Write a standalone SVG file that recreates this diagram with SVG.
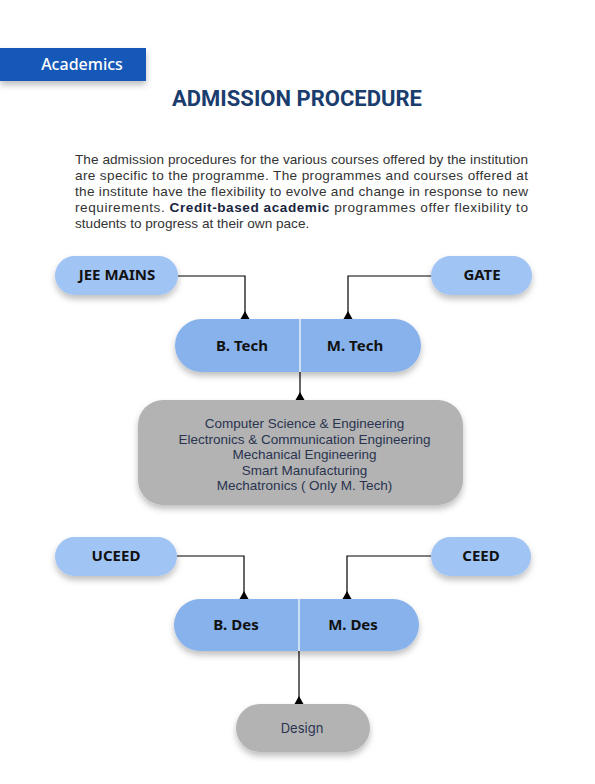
<svg xmlns="http://www.w3.org/2000/svg" width="595" height="784" viewBox="0 0 595 784">
<defs>
<filter id="sh" x="-20%" y="-30%" width="140%" height="180%">
<feDropShadow dx="0" dy="4" stdDeviation="3" flood-color="#000" flood-opacity="0.25"/>
</filter>
<marker id="arr" viewBox="0 0 10 10" refX="5" refY="10" markerWidth="10" markerHeight="10" markerUnits="userSpaceOnUse" orient="0">
<path d="M0.5,10 L5,2 L9.5,10 Z" fill="#000"/>
</marker>
<style>
.lbl{font-family:"Noto Sans","Open Sans",sans-serif;font-weight:700;font-size:15px;fill:#111;text-anchor:middle}
.grey{font-family:"Liberation Sans",Arial,sans-serif;font-size:13.5px;fill:#2a3350;text-anchor:middle}
.para{font-family:"Liberation Sans",Arial,sans-serif;font-size:13.6px;fill:#333}
.blue{fill:#a0c4f4;filter:url(#sh)}
.blue2{fill:#87b2ec;filter:url(#sh)}
.gr{fill:#b3b3b3;filter:url(#sh)}
.con{fill:none;stroke:#000;stroke-width:1.2}
</style>
</defs>
<rect width="595" height="784" fill="#fff"/>
<g id="tab">
<rect x="0" y="48" width="146" height="33" fill="#1558b8" filter="url(#sh)"/>
<text x="82" y="70" font-family="'Noto Sans',sans-serif" font-size="16" font-weight="500" fill="#fff" text-anchor="middle">Academics</text>
</g>
<text id="title" x="297" y="106" font-family="Roboto,'Liberation Sans',sans-serif" font-size="22" font-weight="700" fill="#1a3d6e" text-anchor="middle">ADMISSION PROCEDURE</text>
<g id="para" class="para">
<text x="75" y="164" textLength="453" lengthAdjust="spacing">The admission procedures for the various courses offered by the institution</text>
<text x="75" y="180" textLength="453" lengthAdjust="spacing">are specific to the programme. The programmes and courses offered at</text>
<text x="75" y="196" textLength="453" lengthAdjust="spacing">the institute have the flexibility to evolve and change in response to new</text>
<text x="75" y="212" textLength="453" lengthAdjust="spacing">requirements. <tspan font-weight="700" fill="#1a2540">Credit-based academic</tspan> programmes offer flexibility to</text>
<text x="75" y="228">students to progress at their own pace.</text>
</g>
<g id="connectors">
<path class="con" d="M178,276 H245 V319" marker-end="url(#arr)"/>
<path class="con" d="M432,276 H348 V319" marker-end="url(#arr)"/>
<path class="con" d="M300,372 V400" marker-end="url(#arr)"/>
<path class="con" d="M177,556 H244 V599" marker-end="url(#arr)"/>
<path class="con" d="M431,556 H347 V599" marker-end="url(#arr)"/>
<path class="con" d="M299,651 V704" marker-end="url(#arr)"/>
</g>
<g id="jee">
<rect class="blue" x="55" y="256" width="123" height="39" rx="19.5"/>
<text class="lbl" x="117" y="280">JEE MAINS</text>
</g>
<g id="gate">
<rect class="blue" x="431" y="256" width="101" height="39" rx="19.5"/>
<text class="lbl" x="482" y="280">GATE</text>
</g>
<g id="tech">
<rect class="blue2" x="175" y="319" width="246" height="53" rx="26.5"/>
<line x1="300" y1="319" x2="300" y2="372" stroke="#fff" stroke-width="1.2"/>
<text class="lbl" x="242" y="351">B. Tech</text>
<text class="lbl" x="355" y="351">M. Tech</text>
</g>
<g id="courses">
<rect class="gr" x="138" y="400" width="325" height="105" rx="25"/>
<text class="grey" x="304.5" y="428">Computer Science &amp; Engineering</text>
<text class="grey" x="304.5" y="443.5">Electronics &amp; Communication Engineering</text>
<text class="grey" x="304.5" y="459">Mechanical Engineering</text>
<text class="grey" x="304.5" y="474.5">Smart Manufacturing</text>
<text class="grey" x="304.5" y="490">Mechatronics ( Only M. Tech)</text>
</g>
<g id="uceed">
<rect class="blue" x="55" y="537" width="122" height="39" rx="19.5"/>
<text class="lbl" x="116" y="561">UCEED</text>
</g>
<g id="ceed">
<rect class="blue" x="431" y="537" width="100" height="39" rx="19.5"/>
<text class="lbl" x="481" y="561">CEED</text>
</g>
<g id="des">
<rect class="blue2" x="174" y="599" width="245" height="52" rx="26"/>
<line x1="299" y1="599" x2="299" y2="651" stroke="#fff" stroke-width="1.2"/>
<text class="lbl" x="236" y="630">B. Des</text>
<text class="lbl" x="353" y="630">M. Des</text>
</g>
<g id="design">
<rect class="gr" x="236" y="704" width="134" height="48" rx="24"/>
<text x="302" y="733" font-family="Inter,'Noto Sans',sans-serif" font-size="13" fill="#2a3350" text-anchor="middle">Design</text>
</g>
</svg>
